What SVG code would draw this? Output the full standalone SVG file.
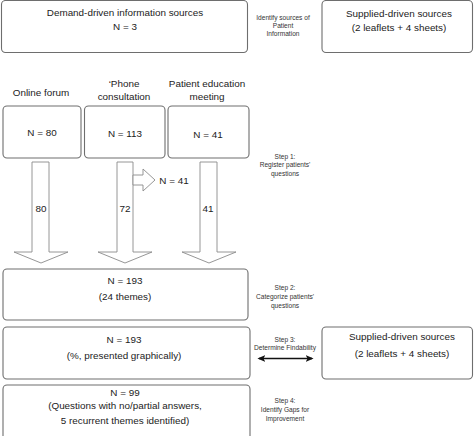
<svg xmlns="http://www.w3.org/2000/svg" width="474" height="436" viewBox="0 0 474 436">
<defs>
<style>
.box{fill:#fff;stroke:#6e6e6e;stroke-width:1.1}
.arr{fill:#fff;stroke:#8a8a8a;stroke-width:0.9}
.t{font-family:"Liberation Sans",Arial,sans-serif;font-size:9.9px;fill:#222;text-anchor:middle}
.s{font-family:"Liberation Sans",Arial,sans-serif;font-size:6.6px;fill:#333;text-anchor:middle}
.dbl{stroke:#111;stroke-width:1.5;fill:none}
</style>
<marker id="ah" viewBox="0 0 10 10" refX="8" refY="5" markerWidth="8" markerHeight="8" orient="auto-start-reverse" markerUnits="userSpaceOnUse">
<path d="M0,0.8 L10,5 L0,9.2 L2.5,5 Z" fill="#111"/>
</marker>
</defs>
<rect width="474" height="436" fill="#fff"/>

<g id="demand">
<rect class="box" x="1.5" y="0.5" width="246" height="52" rx="4"/>
<text class="t" x="125" y="16">Demand-driven information sources</text>
<text class="t" x="125" y="30">N = 3</text>
</g>
<g id="step0">
<text class="s" x="283" y="20">Identify sources of</text>
<text class="s" x="283" y="28">Patient</text>
<text class="s" x="283" y="36">Information</text>
</g>
<g id="supplied1">
<rect class="box" x="322" y="0.5" width="150.5" height="52" rx="4"/>
<text class="t" x="399" y="17">Supplied-driven sources</text>
<text class="t" x="399" y="31">(2 leaflets + 4 sheets)</text>
</g>

<g id="forum">
<text class="t" x="41" y="96">Online forum</text>
<rect class="box" x="3" y="106" width="78" height="52" rx="4"/>
<text class="t" x="42" y="136">N = 80</text>
</g>
<g id="phone">
<text class="t" x="124" y="87">‘Phone</text>
<text class="t" x="124" y="100">consultation</text>
<rect class="box" x="84.5" y="106" width="80.5" height="52" rx="4"/>
<text class="t" x="125" y="137">N = 113</text>
</g>
<g id="meeting">
<text class="t" x="207" y="87">Patient education</text>
<text class="t" x="207" y="100">meeting</text>
<rect class="box" x="168" y="106" width="81" height="52" rx="4"/>
<text class="t" x="208" y="138">N = 41</text>
</g>
<g id="step1">
<text class="s" x="285" y="159">Step 1:</text>
<text class="s" x="285" y="167">Register patients'</text>
<text class="s" x="285" y="176">questions</text>
</g>

<g id="connectors">
<polygon class="arr" points="32,162 49,162 49,252 68,252 41,263 14,252 32,252"/>
<polygon class="arr" points="117,162 133,162 133,252 152,252 125,263 98,252 117,252"/>
<polygon class="arr" points="200,162 217,162 217,252 236,252 209,263 182,252 200,252"/>
<polygon class="arr" points="133,175 143,175 143,169 155,180 143,191 143,185 133,185"/>
<text class="t" x="41" y="212">80</text>
<text class="t" x="125" y="212">72</text>
<text class="t" x="208" y="212">41</text>
<text class="t" x="174" y="184">N = 41</text>
<line class="dbl" x1="259" y1="358.5" x2="312" y2="358.5" marker-start="url(#ah)" marker-end="url(#ah)"/>
</g>

<g id="categorize">
<rect class="box" x="3" y="269" width="245" height="51" rx="4"/>
<text class="t" x="125" y="284">N = 193</text>
<text class="t" x="125" y="300">(24 themes)</text>
</g>
<g id="step2">
<text class="s" x="285" y="290">Step 2:</text>
<text class="s" x="285" y="299">Categorize patients'</text>
<text class="s" x="285" y="308">questions</text>
</g>

<g id="findability">
<rect class="box" x="3" y="327" width="247" height="52" rx="4"/>
<text class="t" x="124" y="343">N = 193</text>
<text class="t" x="124" y="359">(%, presented graphically)</text>
</g>
<g id="step3">
<text class="s" x="285" y="342">Step 3:</text>
<text class="s" x="285" y="350">Determine Findability</text>
</g>
<g id="supplied2">
<rect class="box" x="322" y="327" width="150.5" height="52" rx="4"/>
<text class="t" x="402" y="340">Supplied-driven sources</text>
<text class="t" x="402" y="357">(2 leaflets + 4 sheets)</text>
</g>

<g id="gaps">
<rect class="box" x="3" y="385" width="247" height="60" rx="4"/>
<text class="t" x="125" y="396">N = 99</text>
<text class="t" x="125" y="409">(Questions with no/partial answers,</text>
<text class="t" x="125" y="424">5 recurrent themes identified)</text>
</g>
<g id="step4">
<text class="s" x="285" y="403">Step 4:</text>
<text class="s" x="285" y="412">Identify Gaps for</text>
<text class="s" x="285" y="421">Improvement</text>
</g>
</svg>
